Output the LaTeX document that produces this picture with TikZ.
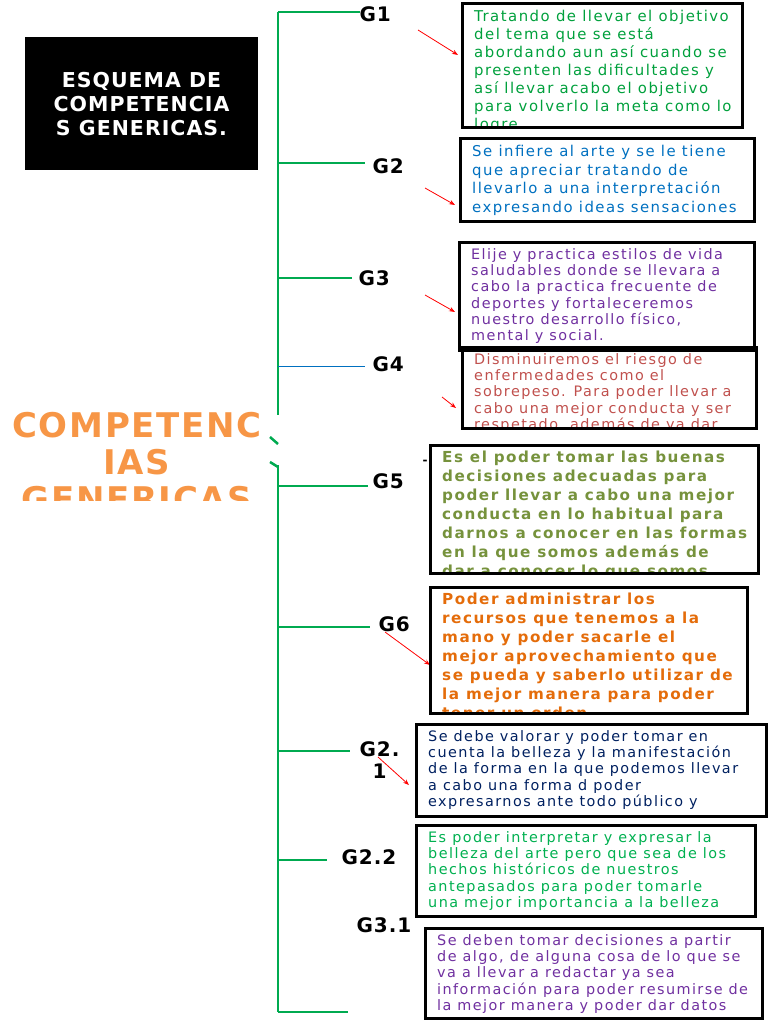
\documentclass[tikz,border=0pt]{standalone}
\usepackage{fontspec}
\setmainfont{DejaVu Sans}[LetterSpace=10]
\newfontfamily\wide{DejaVu Sans}[LetterSpace=5]
\usetikzlibrary{arrows.meta}
\definecolor{gr}{RGB}{0,170,80}
\definecolor{tx1}{RGB}{0,160,60}
\definecolor{tx2}{RGB}{0,112,192}
\definecolor{tx3}{RGB}{112,48,160}
\definecolor{tx4}{RGB}{192,80,77}
\definecolor{tx5}{RGB}{118,146,60}
\definecolor{tx6}{RGB}{228,108,10}
\definecolor{tx7}{RGB}{0,32,96}
\definecolor{tx8}{RGB}{0,176,80}
\definecolor{org}{RGB}{247,150,70}
\tikzset{
 br/.style={draw=gr,line width=2.5pt},
 lab/.style={font=\wide\bfseries\fontsize{20}{22}\selectfont,anchor=west},
 bx/.style={draw=black,line width=3pt},
 txt/.style={anchor=north west,align=left,inner sep=0pt},
 ra/.style={draw=red,-{Stealth[length=6pt]},line width=0.8pt}
}
\begin{document}
\begin{tikzpicture}[x=1pt,y=-1pt]
\useasboundingbox (0,0) rectangle (768,1024);
% title
\node[fill=black,minimum width=233pt,minimum height=133pt,anchor=north west,inner sep=0pt] (title) at (25,37) {};
\node[text=white,align=center,font=\wide\bfseries\fontsize{20.5}{24}\selectfont] (titletxt) at (141.5,104) {ESQUEMA DE\\COMPETENCIA\\S GENERICAS.};
% spine
\coordinate (s0) at (278,12); \coordinate (s1) at (278,415);
\coordinate (s2) at (278,465); \coordinate (s3) at (278,1012);
\draw[br] (s0) -- (s1);
\draw[br] (s2) -- (s3);
\draw[br] (270,437) -- (278,444);
\draw[br] (270,462) -- (278,467);
% COMPETENCIAS
\begin{scope}
\clip (0,400) rectangle (270,500);
\node[text=org,align=center,font=\wide\bfseries\fontsize{34}{37}\selectfont] (comp) at (137,462) {COMPETENC\\IAS\\GENERICAS};
\end{scope}
% branches and labels
\node[lab] (g1) at (356,14) {G1};
\node[lab] (g2) at (369,166) {G2};
\node[lab] (g3) at (355,278) {G3};
\node[lab] (g4) at (369,364) {G4};
\node[lab] (g5) at (369,481) {G5};
\node[lab] (g6) at (375,624) {G6};
\node[lab,align=center,anchor=north west] (g21) at (356,738) {G2.\\1};
\node[lab] (g22) at (338,857) {G2.2};
\node[lab] (g31) at (353,925) {G3.1};
\draw[br] (278,12) -- (360,12);
\draw[br] (278,163) -- (365,163);
\draw[br] (278,278) -- (352,278);
\draw[draw=tx2,line width=1pt] (278,366) -- (365,366);
\draw[br] (278,486) -- (368,486);
\draw[br] (278,627) -- (370,627);
\draw[br] (278,751) -- (350,751);
\draw[br] (278,860) -- (327,860);
\draw[br] (278,1012) -- (348,1012);
% arrows
\coordinate (a1) at (418,30); \coordinate (b1) at (458,55);
\coordinate (a2) at (425,188); \coordinate (b2) at (455,205);
\coordinate (a3) at (425,295); \coordinate (b3) at (455,312);
\coordinate (a4) at (442,397); \coordinate (b4) at (456,408);
\coordinate (a6) at (385,632); \coordinate (b6) at (430,665);
\coordinate (a7) at (378,757); \coordinate (b7) at (409,785);
\foreach \i in {1,2,3,4,6,7} \draw[ra] (a\i) -- (b\i);
\node[inner sep=0pt,font=\bfseries\fontsize{12}{12}\selectfont] (dot) at (425,462) {-};
% boxes
\newcommand{\mybox}[8]{%
 \begin{scope}\clip (#1,#2) rectangle (#3,#4);
 \node[txt,text=#5,font=#6] (#8) at (#1+12,#2+6) {#7};
 \end{scope}
 \draw[bx] (#1,#2) rectangle (#3,#4);}
\mybox{462}{4}{742}{128}{tx1}{\fontsize{14.9}{18}\selectfont}{Tratando de llevar el objetivo\\del tema que se está\\abordando aun así cuando se\\presenten las dificultades y\\así llevar acabo el objetivo\\para volverlo la meta como lo\\logre}{t1}
\mybox{460}{139}{754}{222}{tx2}{\fontsize{14.9}{18.5}\selectfont}{Se infiere al arte y se le tiene\\que apreciar tratando de\\llevarlo a una interpretación\\expresando ideas sensaciones\\y}{t2}
\mybox{459}{242}{754}{350}{tx3}{\fontsize{14.4}{16.3}\selectfont}{Elije y practica estilos de vida\\saludables donde se llevara a\\cabo la practica frecuente de\\deportes y fortaleceremos\\nuestro desarrollo físico,\\mental y social.}{t3}
\mybox{462}{347}{756}{428}{tx4}{\fontsize{14.4}{16.3}\selectfont}{Disminuiremos el riesgo de\\enfermedades como el\\sobrepeso. Para poder llevar a\\cabo una mejor conducta y ser\\respetado, además de ya dar}{t4}
\mybox{430}{445}{758}{573}{tx5}{\bfseries\fontsize{15.2}{19}\selectfont}{Es el poder tomar las buenas\\decisiones adecuadas para\\poder llevar a cabo una mejor\\conducta en lo habitual para\\darnos a conocer en las formas\\en la que somos además de\\dar a conocer lo que somos}{t5}
\mybox{430}{587}{747}{713}{tx6}{\bfseries\fontsize{15.2}{19}\selectfont}{Poder administrar los\\recursos que tenemos a la\\mano y poder sacarle el\\mejor aprovechamiento que\\se pueda y saberlo utilizar de\\la mejor manera para poder\\tener un orden}{t6}
\mybox{416}{724}{766}{816}{tx7}{\fontsize{14.4}{16.3}\selectfont}{Se debe valorar y poder tomar en\\cuenta la belleza y la manifestación\\de la forma en la que podemos llevar\\a cabo una forma d poder\\expresarnos ante todo público y}{t7}
\mybox{416}{825}{755}{916}{tx8}{\fontsize{14.4}{16.3}\selectfont}{Es poder interpretar y expresar la\\belleza del arte pero que sea de los\\hechos históricos de nuestros\\antepasados para poder tomarle\\una mejor importancia a la belleza}{t8}
\mybox{425}{928}{762}{1018}{tx3}{\fontsize{14.4}{16.3}\selectfont}{Se deben tomar decisiones a partir\\de algo, de alguna cosa de lo que se\\va a llevar a redactar ya sea\\información para poder resumirse de\\la mejor manera y poder dar datos}{t9}
\end{tikzpicture}
\end{document}
